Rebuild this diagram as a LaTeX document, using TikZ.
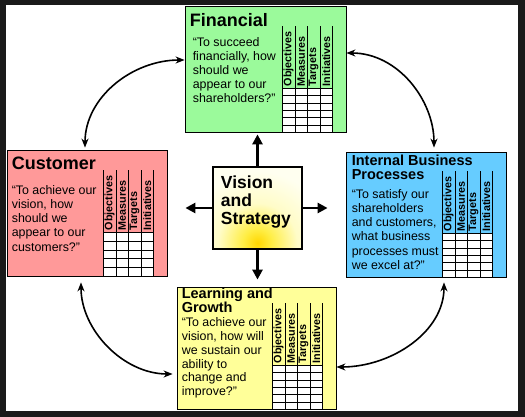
\documentclass[tikz,border=0pt]{standalone}
\usepackage{fontspec}
\setmainfont{Liberation Sans}
\usetikzlibrary{positioning, arrows.meta}

\definecolor{framecol}{RGB}{26,26,26}
\definecolor{fincol}{RGB}{155,250,155}
\definecolor{custcol}{RGB}{255,153,153}
\definecolor{ibpcol}{RGB}{102,204,255}
\definecolor{lgcol}{RGB}{255,255,153}
\definecolor{visbg}{RGB}{255,255,240}
\definecolor{glowa}{RGB}{255,215,0}
\definecolor{glowb}{RGB}{255,238,70}
\definecolor{glowc}{RGB}{255,252,200}
\pgfdeclareradialshading{visglow}{\pgfpoint{0bp}{0bp}}{%
  color(0bp)=(glowa); color(4bp)=(glowb); color(11bp)=(glowc); color(20bp)=(visbg); color(50bp)=(visbg)}

\tikzset{
  persp/.style={draw, line width=0.8pt, inner sep=0pt, minimum width=160pt, minimum height=125pt},
  vision/.style={draw, line width=2.5pt, fill=visbg, inner sep=0pt, minimum width=89pt, minimum height=82pt,
    path picture={\shade[shading=visglow] ([yshift=6pt]path picture bounding box.south) circle (90pt);}},
  pertitle/.style={anchor=base west, align=left, inner sep=0pt, font=\bfseries\fontsize{18}{18}\selectfont},
  subtitle/.style={anchor=base west, align=left, inner sep=0pt, font=\bfseries\fontsize{14.5}{14.5}\selectfont},
  question/.style={anchor=base west, align=left, inner sep=0pt, font=\fontsize{12.4}{14.1}\selectfont},
  colhead/.style={rotate=90, anchor=west, inner sep=0pt, font=\bfseries\fontsize{10.8}{10.8}\selectfont},
}

% objectives / measures / targets / initiatives grid in a box's lower right corner
\newcommand{\scoretable}[2]{%
  \begin{scope}[shift={(#1.south east)}]
    \fill[white] (-64,0.4) rectangle (-14,44);
    \foreach \rw in {1,...,#2}
      \draw[line width=0.8pt] (-64,{\rw*44/#2}) -- (-14,{\rw*44/#2});
    \foreach \cl in {0,...,4}
      \draw[line width=0.8pt] ({-64+\cl*12.5},0) -- ({-64+\cl*12.5},106);
    \foreach \hd [count=\i] in {Objectives,Measures,Targets,Initiatives}
      \node[colhead] (#1-\i) at ({-70.25+\i*12.5},46) {\hd};
  \end{scope}}

\begin{document}
\begin{tikzpicture}[x=1pt, y=1pt, on grid]
    \useasboundingbox (0,0) rectangle (525,-417);
    % frame
    \fill[framecol] (0,0) rectangle (525,-417);
    \fill[white] (6,-5) rectangle (518,-411);

    \node[vision] (vis) at (257.5,-208) {};
    \node[persp, fill=fincol, minimum width=161pt, minimum height=126pt, above right=139pt and 8pt of vis] (fin) {};
    \node[persp, fill=custcol, minimum height=126pt, below left=5pt and 170.5pt of vis] (cust) {};
    \node[persp, fill=ibpcol, below right=6.5pt and 168.5pt of vis] (ibp) {};
    \node[persp, fill=lgcol, minimum width=159pt, minimum height=122pt, below left=140pt and 1pt of vis] (lg) {};

    \scoretable{fin}{6}
    \scoretable{cust}{5}
    \scoretable{ibp}{6}
    \scoretable{lg}{6}

    % multi-line texts hang from the baseline of their last line
    \node[pertitle] (fin-t) at ([shift={(5,-21)}]fin.north west) {Financial};
    \node[question] (fin-q) at ([shift={(8,-97.4)}]fin.north west)
        {“To succeed\\financially, how\\should we\\appear to our\\shareholders?”};
    \node[pertitle] (cust-t) at ([shift={(5,-20)}]cust.north west) {Customer};
    \node[question] (cust-q) at ([shift={(5,-101.4)}]cust.north west)
        {“To achieve our\\vision, how\\should we\\appear to our\\customers?”};
    \node[subtitle] (ibp-t) at ([shift={(6,-28)}]ibp.north west) {Internal Business\\Processes};
    \node[question] (ibp-q) at ([shift={(6,-117.5)}]ibp.north west)
        {“To satisfy our\\shareholders\\and customers,\\what business\\processes must\\we excel at?”};
    \node[subtitle] (lg-t) at ([shift={(5,-26)}]lg.north west) {Learning and\\Growth};
    \node[question, font=\fontsize{12.4}{13.8}\selectfont] (lg-q) at ([shift={(5,-109)}]lg.north west)
        {“To achieve our\\vision, how will\\we sustain our\\ability to\\change and\\improve?”};
    \node[pertitle, font=\bfseries\fontsize{17.5}{18}\selectfont] (vis-t) at ([shift={(9,-59)}]vis.north west)
        {Vision\\and\\Strategy};

    \path[line width=2.5pt, -{Triangle[length=10pt, width=10pt]}]
        (vis.north) edge [shorten >=2pt] (vis.north |- fin.south)
        (vis.west) edge [shorten >=18pt] (vis.west -| cust.east)
        (vis.east) edge [shorten >=18pt] (vis.east -| ibp.west)
        (vis.south) edge [shorten >=7pt] (vis.south |- lg.north);

    \path[line width=1.6pt, {Stealth[length=9pt, width=7pt]}-{Stealth[length=9pt, width=7pt]}]
        ([yshift=9pt]fin.west) edge [out=180, in=90, shorten >=2pt] ([xshift=-2pt]cust.north)
        ([yshift=16pt]fin.east) edge [out=0, in=90, shorten >=4pt] ([xshift=8pt]ibp.north)
        ([xshift=-6pt]cust.south) edge [out=-90, in=180, shorten <=6pt, shorten >=4pt] ([yshift=-26pt]lg.west)
        ([yshift=-19pt]lg.east) edge [out=0, in=-90, shorten >=5pt] ([xshift=18pt]ibp.south);
\end{tikzpicture}
\end{document}
